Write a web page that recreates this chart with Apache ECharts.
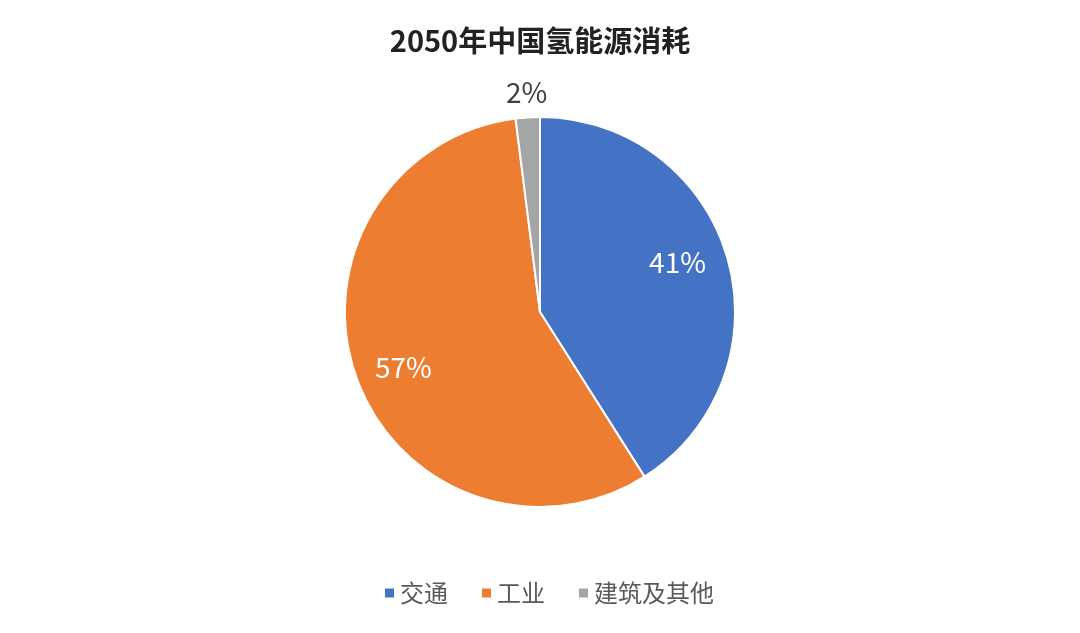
<!DOCTYPE html>
<html>
<head>
<meta charset="utf-8">
<script src="https://cdn.jsdelivr.net/npm/echarts@6/dist/echarts.min.js"></script>
<style>
  html, body { margin: 0; padding: 0; background: #fff; }
  #chart { width: 1080px; height: 633px; }
</style>
</head>
<body>
<div id="chart"></div>
<script>
const categories = ["交通", "工业", "建筑及其他"];
const shares = [41, 57, 2];
const colors = ["#4472C4", "#ED7D31", "#A5A5A5"];

const pieData = categories.map((name, i) => ({ name: name, value: shares[i] }));
const font = '"Noto Sans CJK SC", "Noto Sans", sans-serif';

// small nudges so the labels sit where the original puts them
const labelNudge = [[-7, -8], [5, 4], [-4, -69]];

const chart = echarts.init(document.getElementById("chart"));
chart.setOption({
  backgroundColor: "#fff",
  color: colors,
  title: {
    text: "2050年中国氢能源消耗",
    left: "center",
    top: 21,
    textStyle: { fontFamily: font, fontSize: 29, fontWeight: "bold", color: "#222" }
  },
  legend: {
    bottom: 23,
    left: 378,
    itemWidth: 11,
    itemHeight: 11,
    itemGap: 32,
    icon: "rect",
    textStyle: { fontFamily: font, fontSize: 24, color: "#595959" },
    data: categories
  },
  series: [
    {
      // visible slices
      type: "pie",
      center: [540, 312],
      radius: [0, 195],
      startAngle: 90,
      clockwise: true,
      silent: true,
      itemStyle: { borderColor: "#fff", borderWidth: 2 },
      label: { show: false },
      labelLine: { show: false },
      data: pieData
    },
    {
      // label ring, places percentages further out than the default "inside"
      type: "pie",
      center: [540, 312],
      radius: [100, 195],
      startAngle: 90,
      clockwise: true,
      silent: true,
      itemStyle: { color: "transparent" },
      label: {
        show: true,
        position: "inside",
        formatter: "{c}%",
        fontFamily: font,
        fontSize: 28,
        color: "#fff"
      },
      labelLayout: function (params) {
        const n = labelNudge[params.dataIndex];
        return { dx: n[0], dy: n[1] };
      },
      data: pieData.map((d, i) => i === 2
        ? Object.assign({}, d, { label: { color: "#404040" } })
        : d)
    }
  ]
});
</script>
</body>
</html>
